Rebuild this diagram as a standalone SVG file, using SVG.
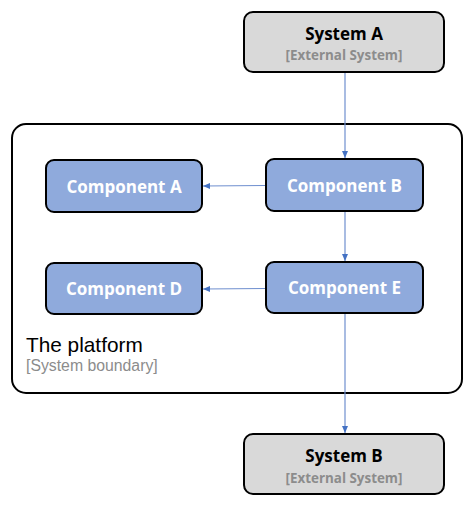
<svg xmlns="http://www.w3.org/2000/svg" width="474" height="506" viewBox="0 0 474 506">
<style>
.sys{fill:#d9d9d9;stroke:#000;stroke-width:2}
.comp{fill:#8faadc;stroke:#000;stroke-width:2}
.bnd{fill:#fff;stroke:#000;stroke-width:2}
.t{font-family:"Open Sans","Liberation Sans",sans-serif;font-weight:bold;text-anchor:middle}
.st{font-size:17px;fill:#000}
.sub{font-size:13.4px;fill:#8c8c8c}
.ct{font-size:17px;fill:#fff}
.c{stroke:#6f8fcf;stroke-width:1.2;fill:none;marker-end:url(#ah)}
</style>
<defs>
<marker id="ah" markerWidth="8" markerHeight="8" refX="7" refY="4" orient="auto" markerUnits="userSpaceOnUse">
<path d="M0,1 L7,4 L0,7 Z" fill="#4472c4"/>
</marker>
</defs>
<rect width="474" height="506" fill="#fff"/>
<g id="boundary">
<rect class="bnd" x="12" y="124" width="450" height="269" rx="14"/>
<text x="26" y="352" font-family="Liberation Sans,Arial,sans-serif" font-size="20.8" fill="#000">The platform</text>
<text x="26" y="371" font-family="Liberation Sans,Arial,sans-serif" font-size="15.8" fill="#8c8c8c">[System boundary]</text>
</g>
<g id="connectors">
<line class="c" x1="345" y1="73" x2="345" y2="158"/>
<line class="c" x1="265" y1="185.5" x2="203" y2="186"/>
<line class="c" x1="345" y1="212" x2="345" y2="261"/>
<line class="c" x1="265" y1="288.5" x2="203" y2="289"/>
<line class="c" x1="345" y1="314" x2="345" y2="433"/>
</g>
<g id="systemA">
<rect class="sys" x="244" y="12" width="200" height="60" rx="9"/>
<text class="t st" x="344" y="39.5">System A</text>
<text class="t sub" x="344" y="60">[External System]</text>
</g>
<g id="componentA">
<rect class="comp" x="46" y="160" width="156" height="52" rx="8"/>
<text class="t ct" x="124" y="193">Component A</text>
</g>
<g id="componentB">
<rect class="comp" x="266" y="159" width="157" height="52" rx="8"/>
<text class="t ct" x="344.5" y="192">Component B</text>
</g>
<g id="componentD">
<rect class="comp" x="46" y="263" width="156" height="51" rx="8"/>
<text class="t ct" x="124" y="295">Component D</text>
</g>
<g id="componentE">
<rect class="comp" x="266" y="262" width="157" height="51" rx="8"/>
<text class="t ct" x="344.5" y="294">Component E</text>
</g>
<g id="systemB">
<rect class="sys" x="244" y="434" width="200" height="60" rx="9"/>
<text class="t st" x="344" y="461.5">System B</text>
<text class="t sub" x="344" y="482.5">[External System]</text>
</g>
</svg>
